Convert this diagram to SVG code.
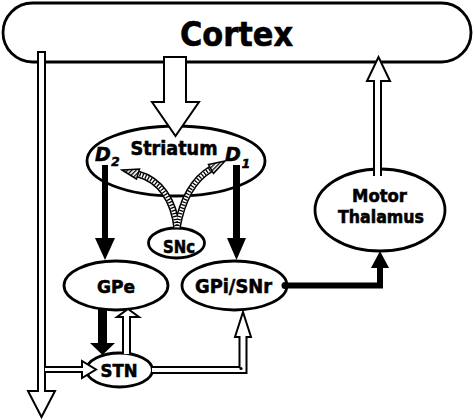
<svg xmlns="http://www.w3.org/2000/svg" width="474" height="420" viewBox="0 0 474 420">
<style>
.node{fill:#fff;stroke:#000;stroke-width:2.8}
.lbl{font-family:"DejaVu Sans","Verdana",sans-serif;font-weight:bold;fill:#000;stroke:#000;stroke-width:0.6;text-anchor:middle}
.hol{fill:#fff;stroke:#000;stroke-width:2;stroke-linejoin:miter}
.blk{fill:#000;stroke:none}
.hatch-out{fill:none;stroke:#000;stroke-width:7}
.hatch-in{fill:none;stroke:#fff;stroke-width:4}
.hatch-dash{fill:none;stroke:#000;stroke-width:4;stroke-dasharray:1.3 1.7}
</style>
<defs>
<pattern id="hp" width="3" height="3" patternUnits="userSpaceOnUse" patternTransform="rotate(45)">
<rect width="3" height="3" fill="#fff"/>
<rect width="1.3" height="3" fill="#000"/>
</pattern>
</defs>
<rect width="474" height="420" fill="#fff"/>
<g id="cortex"><rect class="node" x="3" y="3" width="468" height="59" rx="29.5"/><text class="lbl" x="236.5" y="46" font-size="33" textLength="113" lengthAdjust="spacingAndGlyphs">Cortex</text></g>
<g id="striatum"><ellipse class="node" cx="176" cy="161" rx="89" ry="35"/><text class="lbl" x="174" y="155" font-size="19.5" textLength="87" lengthAdjust="spacingAndGlyphs">Striatum</text>
<text class="lbl" x="103" y="161" font-size="19" font-style="italic">D</text><text class="lbl" x="115.5" y="166" font-size="12" font-style="italic">2</text>
<text class="lbl" x="233" y="161" font-size="19" font-style="italic">D</text><text class="lbl" x="246" y="168" font-size="12" font-style="italic">1</text></g>
<g id="snc"><ellipse class="node" cx="176.5" cy="243" rx="28" ry="15"/><text class="lbl" x="179" y="253" font-size="18" textLength="32" lengthAdjust="spacingAndGlyphs">SNc</text></g>
<g id="gpe"><ellipse class="node" cx="116" cy="285.5" rx="52" ry="24.5"/><text class="lbl" x="116" y="293" font-size="18.5" textLength="38" lengthAdjust="spacingAndGlyphs">GPe</text></g>
<g id="gpi"><ellipse class="node" cx="234.5" cy="285.5" rx="52.5" ry="24.5"/><text class="lbl" x="233.5" y="292.5" font-size="19" textLength="77" lengthAdjust="spacingAndGlyphs">GPi/SNr</text></g>
<g id="stn"><ellipse class="node" cx="119.5" cy="370" rx="33" ry="17"/><text class="lbl" x="119" y="376.5" font-size="18.5" textLength="37" lengthAdjust="spacingAndGlyphs">STN</text></g>
<g id="thalamus"><ellipse class="node" cx="380" cy="210" rx="65" ry="41"/><text class="lbl" x="379.5" y="202" font-size="18" textLength="55" lengthAdjust="spacingAndGlyphs">Motor</text><text class="lbl" x="381" y="223" font-size="18" textLength="86" lengthAdjust="spacingAndGlyphs">Thalamus</text></g>
<g id="connectors">
<polygon class="hol" points="38,52 45,52 45,391 55,391 41.5,417 28,391 38,391"/>
<path class="hol" d="M45,367 H82 V361 L96,369.5 L82,378 V372 H45"/>
<polygon class="hol" points="164,57 186,57 186,102 199,102 175.5,136 152,102 164,102"/>
<path class="hol" d="M374,176 V81 H367 L378.5,57 L390,81 H381 V176"/>
<path class="hol" d="M152,367 H239.5 V337 H235 L243,312 L251,337 H246.5 V373 H152"/>
<circle cx="241" cy="368.5" r="1.6" fill="#000"/>
<path class="hol" d="M123,354 V317 H117 L128,309 L139,317 H130 V354"/>
<polygon class="blk" points="102,165 108,165 108,238 115,238 105,260 95,238 102,238"/>
<polygon class="blk" points="233,165 240,165 240,238 246,238 236.5,260 227,238 233,238"/>
<polygon class="blk" points="98,309 107,309 107,343 115,343 102.5,355 90,343 98,343"/>
<path d="M287,285.5 H380 V267" fill="none" stroke="#000" stroke-width="6"/>
<polygon class="blk" points="371,268 389,268 380,251"/>
<circle cx="285" cy="285.5" r="3.5" fill="#000"/>
<path class="hatch-out" d="M177,229 C174,200 160,180 138,174"/>
<path class="hatch-out" d="M177,229 C182,200 192,180 211,169"/>
<path class="hatch-in" d="M177,229 C174,200 160,180 138,174"/>
<path class="hatch-in" d="M177,229 C182,200 192,180 211,169"/>
<path class="hatch-dash" d="M177,229 C174,200 160,180 138,174"/>
<path class="hatch-dash" d="M177,229 C182,200 192,180 211,169"/>
<polygon points="122,170 139.5,169 136.5,179" fill="url(#hp)" stroke="#000" stroke-width="1.5"/>
<polygon points="225,161 213.5,173.5 208.5,164.5" fill="url(#hp)" stroke="#000" stroke-width="1.5"/>
</g>
</svg>
